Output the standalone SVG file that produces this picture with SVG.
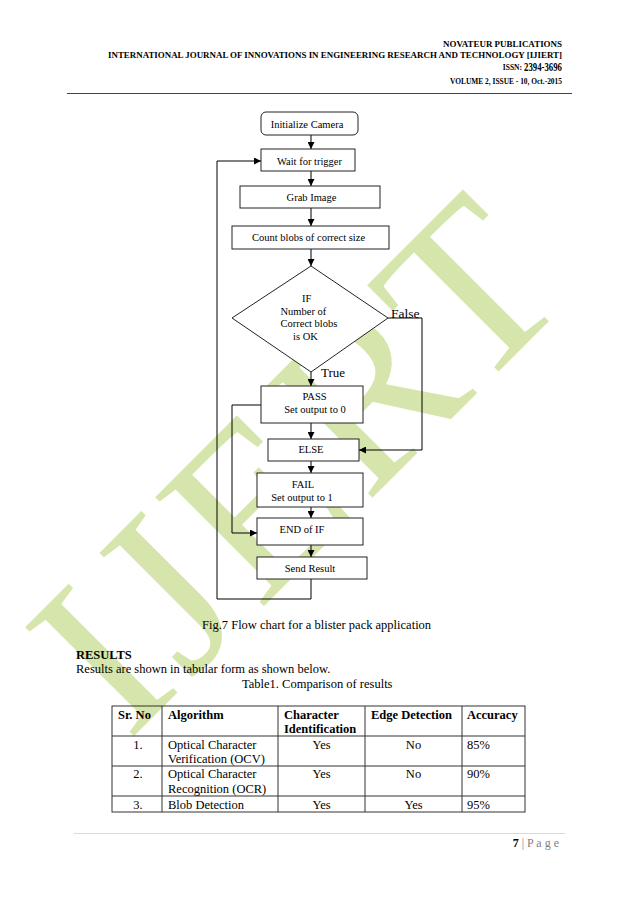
<svg xmlns="http://www.w3.org/2000/svg" width="638" height="902" viewBox="0 0 638 902">
<style>
.t{font-family:"Liberation Serif","Times New Roman",serif;fill:#000}
.n{font-size:10.5px}
.b{font-size:12.5px}
.bold{font-weight:bold}
.hd{font-family:"Liberation Serif","Times New Roman",serif;font-weight:bold;fill:#000;text-anchor:end}
.box{fill:#fff;stroke:#222;stroke-width:1}
.ln{fill:none;stroke:#000;stroke-width:1}
.tb{fill:none;stroke:#333;stroke-width:1}
.m{text-anchor:middle}
</style>
<defs>
<marker id="ah" viewBox="0 0 7 7" refX="7" refY="3.5" markerWidth="7" markerHeight="7" markerUnits="userSpaceOnUse" orient="auto">
<path d="M0,0 L7,3.5 L0,7 z" fill="#000"/>
</marker>
</defs>
<rect x="0" y="0" width="638" height="902" fill="#fff"/>
<g id="watermark">
<text transform="translate(128,742) rotate(-45)" x="0" y="0" font-family="Liberation Serif, serif" font-size="235" letter-spacing="8" fill="#d5e5ab">IJERT</text>
</g>
<g id="header">
<text class="hd" x="562" y="47" font-size="8.6" textLength="119" lengthAdjust="spacingAndGlyphs">NOVATEUR PUBLICATIONS</text>
<text class="hd" x="562" y="57.5" font-size="8.6" textLength="454" lengthAdjust="spacingAndGlyphs">INTERNATIONAL JOURNAL OF INNOVATIONS IN ENGINEERING RESEARCH AND TECHNOLOGY [IJIERT]</text>
<text class="hd" x="522" y="70" font-size="7.5">ISSN:</text>
<text class="hd" x="562" y="70.5" font-size="12.5" textLength="38" lengthAdjust="spacingAndGlyphs">2394-3696</text>
<text class="hd" x="562" y="84" font-size="8.6" textLength="112" lengthAdjust="spacingAndGlyphs">VOLUME 2, ISSUE - 10, Oct.-2015</text>
<line x1="67" y1="93.5" x2="572" y2="93.5" stroke="#444" stroke-width="1"/>
</g>
<g id="connectors">
<path class="ln" d="M311,135 V149" marker-end="url(#ah)"/>
<path class="ln" d="M311,171 V186" marker-end="url(#ah)"/>
<path class="ln" d="M311,208 V226" marker-end="url(#ah)"/>
<path class="ln" d="M311,249 V266" marker-end="url(#ah)"/>
<path class="ln" d="M311,372 V386" marker-end="url(#ah)"/>
<path class="ln" d="M311,423 V439" marker-end="url(#ah)"/>
<path class="ln" d="M311,461 V473" marker-end="url(#ah)"/>
<path class="ln" d="M311,507 V518" marker-end="url(#ah)"/>
<path class="ln" d="M311,545 V557" marker-end="url(#ah)"/>
<path class="ln" d="M388,318 H422 V450 H359" marker-end="url(#ah)"/>
<path class="ln" d="M261,405 H232 V533 H257" marker-end="url(#ah)"/>
<path class="ln" d="M311,579 V599 H217 V161 H261" marker-end="url(#ah)"/>
<text class="t" x="391" y="318" font-size="13.5">False</text>
<text class="t" x="321" y="377" font-size="13">True</text>
</g>
<g id="init">
<rect class="box" x="261" y="112" width="97" height="23" rx="5"/>
<text class="t n m" x="307" y="128">Initialize Camera</text>
</g>
<g id="wait">
<rect class="box" x="261" y="149" width="94" height="22"/>
<text class="t n m" x="309.5" y="164.5">Wait for trigger</text>
</g>
<g id="grab">
<rect class="box" x="240" y="186" width="140" height="22"/>
<text class="t n m" x="311.5" y="200.5">Grab Image</text>
</g>
<g id="count">
<rect class="box" x="232" y="226" width="157" height="23"/>
<text class="t n m" x="308.5" y="240.5">Count blobs of correct size</text>
</g>
<g id="decision">
<polygon class="box" points="311,266 388,318 311,372 232,318"/>
<text class="t n" x="302" y="302">IF</text>
<text class="t n" x="280.5" y="314.5">Number of</text>
<text class="t n" x="280.5" y="327">Correct blobs</text>
<text class="t n" x="293" y="339.5">is OK</text>
</g>
<g id="pass">
<rect class="box" x="261" y="386" width="102" height="37"/>
<text class="t n m" x="314.5" y="399.5">PASS</text>
<text class="t n m" x="315" y="413">Set output to 0</text>
</g>
<g id="else">
<rect class="box" x="268" y="439" width="91" height="22"/>
<text class="t n m" x="311" y="453">ELSE</text>
</g>
<g id="fail">
<rect class="box" x="257" y="473" width="106" height="34"/>
<text class="t n m" x="303" y="488">FAIL</text>
<text class="t n m" x="302" y="501">Set output to 1</text>
</g>
<g id="endif">
<rect class="box" x="257" y="518" width="106" height="27"/>
<text class="t n m" x="302" y="533">END of IF</text>
</g>
<g id="send">
<rect class="box" x="257" y="557" width="110" height="22"/>
<text class="t n m" x="310" y="571.5">Send Result</text>
</g>
<g id="body">
<text class="t b" x="202" y="629">Fig.7 Flow chart for a blister pack application</text>
<text class="t b bold" x="76" y="658.5">RESULTS</text>
<text class="t b" x="76" y="673">Results are shown in tabular form as shown below.</text>
<text class="t b" x="242" y="687.5">Table1. Comparison of results</text>
</g>
<g id="table">
<rect class="tb" x="112" y="706" width="413" height="106"/>
<line class="tb" x1="162" y1="706" x2="162" y2="812"/>
<line class="tb" x1="278" y1="706" x2="278" y2="812"/>
<line class="tb" x1="365" y1="706" x2="365" y2="812"/>
<line class="tb" x1="462" y1="706" x2="462" y2="812"/>
<line class="tb" x1="112" y1="736" x2="525" y2="736"/>
<line class="tb" x1="112" y1="766" x2="525" y2="766"/>
<line class="tb" x1="112" y1="796" x2="525" y2="796"/>
<text class="t b bold" x="118" y="718.5">Sr. No</text>
<text class="t b bold" x="168" y="718.5">Algorithm</text>
<text class="t b bold" x="284" y="718.5">Character</text>
<text class="t b bold" x="284" y="733">Identification</text>
<text class="t b bold" x="371" y="718.5">Edge Detection</text>
<text class="t b bold" x="467" y="718.5">Accuracy</text>
<text class="t b m" x="138" y="748.5">1.</text>
<text class="t b" x="168" y="748.5">Optical Character</text>
<text class="t b" x="168" y="763">Verification (OCV)</text>
<text class="t b m" x="321.5" y="748.5">Yes</text>
<text class="t b m" x="413.5" y="748.5">No</text>
<text class="t b" x="467" y="748.5">85%</text>
<text class="t b m" x="138" y="778">2.</text>
<text class="t b" x="168" y="778">Optical Character</text>
<text class="t b" x="168" y="793">Recognition (OCR)</text>
<text class="t b m" x="321.5" y="778">Yes</text>
<text class="t b m" x="413.5" y="778">No</text>
<text class="t b" x="467" y="778">90%</text>
<text class="t b m" x="138" y="808.5">3.</text>
<text class="t b" x="168" y="808.5">Blob Detection</text>
<text class="t b m" x="321.5" y="808.5">Yes</text>
<text class="t b m" x="413.5" y="808.5">Yes</text>
<text class="t b" x="467" y="808.5">95%</text>
</g>
<g id="footer">
<line x1="74" y1="833.5" x2="565" y2="833.5" stroke="#d9d9d9" stroke-width="1"/>
<text x="559" y="847" font-family="Liberation Serif, serif" font-size="12" text-anchor="end" fill="#7f7f7f"><tspan font-weight="bold" fill="#000">7</tspan> | P a g e</text>
</g>
</svg>
